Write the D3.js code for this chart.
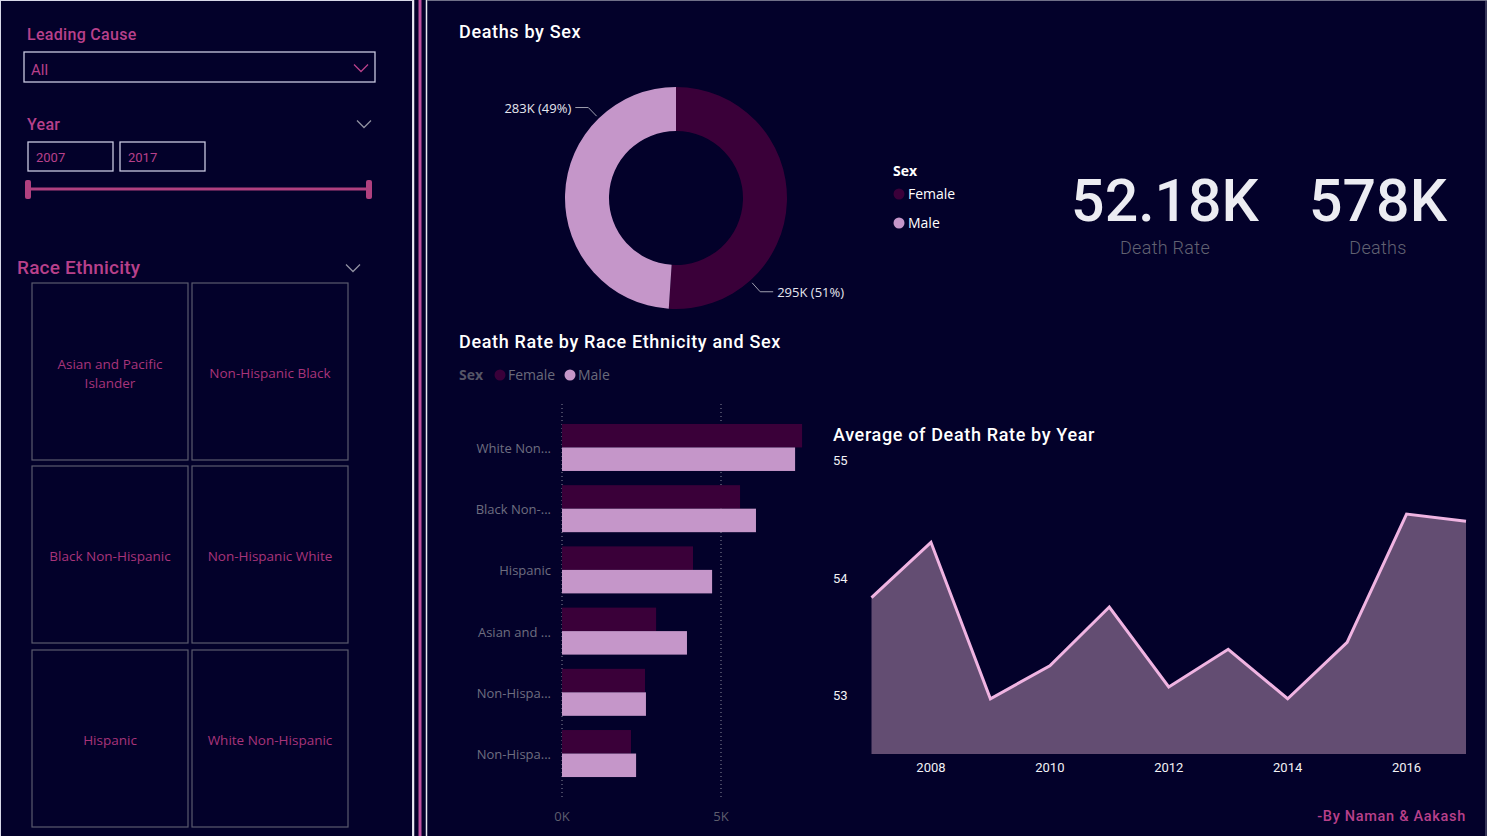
<!DOCTYPE html>
<html><head><meta charset="utf-8">
<script src="https://cdn.jsdelivr.net/npm/d3@7"></script>
<style>
html,body{margin:0;padding:0;background:#03012a;overflow:hidden}
svg{display:block}
</style></head>
<body>
<svg id="c" width="1487" height="836"></svg>
<script>
// ---------- DATA ----------
const sexes = ["Female", "Male"];
const deathsBySex = [295000, 283000];          // Female, Male
const deathsBySexLabels = ["295K (51%)", "283K (49%)"];

const raceLabels = ["White Non...", "Black Non-...", "Hispanic", "Asian and ...", "Non-Hispa...", "Non-Hispa..."];
const raceFemale = [7550, 5600, 4120, 2960, 2610, 2170];
const raceMale   = [7330, 6100, 4720, 3930, 2640, 2330];
const barTicks = [0, 5000];

const years = [2007, 2008, 2009, 2010, 2011, 2012, 2013, 2014, 2015, 2016, 2017];
const avgDeathRate = [53.83, 54.30, 52.97, 53.25, 53.75, 53.07, 53.39, 52.97, 53.45, 54.54, 54.48];
const yearTicks = [2008, 2010, 2012, 2014, 2016];
const rateTicks = [53, 54, 55];

const kpiValues = ["52.18K", "578K"];
const kpiLabels = ["Death Rate", "Deaths"];

const raceTiles = ["Asian and Pacific|Islander", "Non-Hispanic Black", "Black Non-Hispanic", "Non-Hispanic White", "Hispanic", "White Non-Hispanic"];

// ---------- STYLE ----------
const BG = "#03012a";
const FEM = "#3a0039";
const MAL = "#c596c9";
const PINK = "#b8408a";
const TILEPINK = "#a8347a";
const DIN = "Roboto, 'DejaVu Sans', sans-serif";
const SEGOE = "'Open Sans', 'Noto Sans', sans-serif";

const svg = d3.select("#c");
svg.append("rect").attr("width", 1487).attr("height", 836).attr("fill", BG);

// frames & dividers
svg.append("rect").attr("x", 0.5).attr("y", 0.5).attr("width", 412).attr("height", 840)
  .attr("fill", "none").attr("stroke", "#d8d8e8").attr("stroke-width", 1);
svg.append("line").attr("x1", 413.5).attr("x2", 413.5).attr("y1", 0).attr("y2", 836).attr("stroke", "#e8e8f0").attr("stroke-width", 1.5);
svg.append("line").attr("x1", 420).attr("x2", 420).attr("y1", 0).attr("y2", 836).attr("stroke", "#c050a0").attr("stroke-width", 3);
svg.append("line").attr("x1", 426.5).attr("x2", 426.5).attr("y1", 0).attr("y2", 836).attr("stroke", "#e8e8f0").attr("stroke-width", 1.5);
svg.append("line").attr("x1", 427).attr("x2", 1487).attr("y1", 0.5).attr("y2", 0.5).attr("stroke", "#707088").attr("stroke-width", 1);
svg.append("line").attr("x1", 1486).attr("x2", 1486).attr("y1", 0).attr("y2", 836).attr("stroke", "#707088").attr("stroke-width", 1);

// ---------- LEFT PANEL ----------
const left = svg.append("g");
left.append("text").attr("x", 27).attr("y", 40).text("Leading Cause")
  .attr("fill", PINK).attr("font-family", DIN).attr("font-size", 16).attr("font-weight", 500).attr("letter-spacing", 0.3);
left.append("rect").attr("x", 24).attr("y", 52).attr("width", 351).attr("height", 30)
  .attr("fill", "none").attr("stroke", "#c8c8e0").attr("stroke-width", 1.3);
left.append("text").attr("x", 31).attr("y", 75).text("All")
  .attr("fill", PINK).attr("font-family", DIN).attr("font-size", 15);
function chevron(x, y, col, w) {
  left.append("path").attr("d", `M${x - w},${y - w / 2} L${x},${y + w / 2} L${x + w},${y - w / 2}`)
    .attr("fill", "none").attr("stroke", col).attr("stroke-width", 1.3);
}
chevron(361, 68, PINK, 7);
left.append("text").attr("x", 27).attr("y", 130).text("Year")
  .attr("fill", PINK).attr("font-family", DIN).attr("font-size", 16).attr("font-weight", 500).attr("letter-spacing", 0.3);
chevron(364, 124, "#9090a0", 7);
[["2007", 28], ["2017", 120]].forEach(([t, x]) => {
  left.append("rect").attr("x", x).attr("y", 142).attr("width", 85).attr("height", 29)
    .attr("fill", "none").attr("stroke", "#c8c8e0").attr("stroke-width", 1.3);
  left.append("text").attr("x", x + 8).attr("y", 162).text(t)
    .attr("fill", PINK).attr("font-family", DIN).attr("font-size", 13);
});
left.append("line").attr("x1", 28).attr("x2", 369).attr("y1", 189).attr("y2", 189)
  .attr("stroke", "#b0407f").attr("stroke-width", 3);
[28, 369].forEach(x => left.append("rect").attr("x", x - 3).attr("y", 180).attr("width", 6).attr("height", 19)
  .attr("rx", 2).attr("fill", "#b0407f"));
left.append("text").attr("x", 17).attr("y", 274).text("Race Ethnicity")
  .attr("fill", PINK).attr("font-family", DIN).attr("font-size", 19).attr("font-weight", 500).attr("letter-spacing", 0.2);
chevron(353, 268, "#9090a0", 7);

const tileX = [32, 192], tileY = [283, 466, 650], tileW = 156, tileH = 177;
raceTiles.forEach((t, i) => {
  const cx = tileX[i % 2], cy = tileY[Math.floor(i / 2)];
  left.append("rect").attr("x", cx).attr("y", cy).attr("width", tileW).attr("height", tileH)
    .attr("fill", "none").attr("stroke", "#5a5a6e").attr("stroke-width", 1.2);
  const lines = t.split("|");
  lines.forEach((ln, j) => {
    left.append("text").attr("x", cx + tileW / 2).attr("y", cy + 90 + (j - (lines.length - 1) / 2) * 19 + 5)
      .attr("text-anchor", "middle").text(ln)
      .attr("fill", TILEPINK).attr("font-family", SEGOE).attr("font-size", 13.5);
  });
});

// ---------- DEATHS BY SEX (donut) ----------
svg.append("text").attr("x", 459).attr("y", 38).text("Deaths by Sex")
  .attr("fill", "#ffffff").attr("font-family", DIN).attr("font-size", 18).attr("font-weight", 500).attr("letter-spacing", 0.65);
const pie = d3.pie().sort(null).value(d => d)(deathsBySex);
const arc = d3.arc().innerRadius(67).outerRadius(111);
const donut = svg.append("g").attr("transform", "translate(676,198)");
donut.selectAll("path").data(pie).join("path").attr("d", arc)
  .attr("fill", (d, i) => i === 0 ? FEM : MAL);
// labels with leader lines
pie.forEach((d, i) => {
  const ang = i === 0 ? 2.41 : -0.77;
  const p0 = [Math.sin(ang) * 114, -Math.cos(ang) * 114];
  const p1 = [Math.sin(ang) * 126, -Math.cos(ang) * 126];
  const dir = Math.sin(ang) > 0 ? 1 : -1;
  const p2 = [p1[0] + dir * 13, p1[1]];
  donut.append("polyline").attr("points", [p0, p1, p2].map(p => p.join(",")).join(" "))
    .attr("fill", "none").attr("stroke", "#a0a0b0").attr("stroke-width", 1);
  donut.append("text").attr("x", p2[0] + dir * 4).attr("y", p2[1] + 5)
    .attr("text-anchor", dir > 0 ? "start" : "end").text(deathsBySexLabels[i])
    .attr("fill", "#e6e6ee").attr("font-family", SEGOE).attr("font-size", 13);
});

// legend
const lg = svg.append("g");
lg.append("text").attr("x", 893).attr("y", 176).text("Sex").attr("fill", "#fff")
  .attr("font-family", SEGOE).attr("font-size", 14).attr("font-weight", 700);
sexes.forEach((s, i) => {
  const y = 194 + i * 29;
  lg.append("circle").attr("cx", 899).attr("cy", y).attr("r", 5.5).attr("fill", i === 0 ? FEM : MAL);
  lg.append("text").attr("x", 908).attr("y", y + 5).text(s).attr("fill", "#fff")
    .attr("font-family", SEGOE).attr("font-size", 14);
});

// KPIs
[1165, 1378].forEach((x, i) => {
  svg.append("text").attr("x", x).attr("y", 221).attr("text-anchor", "middle").text(kpiValues[i])
    .attr("fill", "#ececf2").attr("font-family", DIN).attr("font-size", 59).attr("font-weight", 500);
  svg.append("text").attr("x", x).attr("y", 254).attr("text-anchor", "middle").text(kpiLabels[i])
    .attr("fill", "#626272").attr("font-family", DIN).attr("font-size", 18).attr("font-weight", 300).attr("letter-spacing", 0.3);
});

// ---------- DEATH RATE BY RACE (bars) ----------
svg.append("text").attr("x", 459).attr("y", 348).text("Death Rate by Race Ethnicity and Sex")
  .attr("fill", "#ffffff").attr("font-family", DIN).attr("font-size", 18).attr("font-weight", 500).attr("letter-spacing", 0.65);
const bl = svg.append("g");
bl.append("text").attr("x", 459).attr("y", 380).text("Sex").attr("fill", "#555566")
  .attr("font-family", SEGOE).attr("font-size", 14).attr("font-weight", 700);
[["Female", 500, FEM], ["Male", 570, MAL]].forEach(([t, x, c]) => {
  bl.append("circle").attr("cx", x).attr("cy", 375).attr("r", 5.5).attr("fill", c);
  bl.append("text").attr("x", x + 8).attr("y", 380).text(t).attr("fill", "#6a6a7a")
    .attr("font-family", SEGOE).attr("font-size", 14);
});

const bx = d3.scaleLinear().domain([0, 5000]).range([562, 721]);
const idx = raceLabels.map((d, i) => i);
const by = d3.scaleBand().domain(idx).range([404, 797]).paddingInner(0.232).paddingOuter(0.326);
const bsub = d3.scaleBand().domain(sexes).range([0, by.bandwidth()]);

const grid = svg.append("g");
barTicks.forEach(t => {
  grid.append("line").attr("x1", bx(t)).attr("x2", bx(t)).attr("y1", 404).attr("y2", 800)
    .attr("stroke", "#8a8a9a").attr("stroke-width", 1).attr("stroke-dasharray", "1,3");
  grid.append("text").attr("x", bx(t)).attr("y", 821).attr("text-anchor", "middle")
    .text(d3.format("d")(t / 1000) + "K").attr("fill", "#5e5e6e")
    .attr("font-family", SEGOE).attr("font-size", 13);
});
const bars = svg.append("g");
idx.forEach(i => {
  [[raceFemale[i], "Female", FEM], [raceMale[i], "Male", MAL]].forEach(([v, s, c]) => {
    bars.append("rect").attr("x", bx(0)).attr("y", by(i) + bsub(s))
      .attr("width", bx(v) - bx(0)).attr("height", bsub.bandwidth()).attr("fill", c);
  });
  bars.append("text").attr("x", 551).attr("y", by(i) + by.bandwidth() / 2 + 5.5)
    .attr("text-anchor", "end").text(raceLabels[i]).attr("fill", "#6e6e80")
    .attr("font-family", SEGOE).attr("font-size", 13);
});

// ---------- AVERAGE DEATH RATE BY YEAR (area) ----------
svg.append("text").attr("x", 833).attr("y", 441).text("Average of Death Rate by Year")
  .attr("fill", "#ffffff").attr("font-family", DIN).attr("font-size", 18).attr("font-weight", 500).attr("letter-spacing", 0.65);
const lx = d3.scaleLinear().domain([2007, 2017]).range([871.5, 1466]);
const ly = d3.scaleLinear().domain([52.5, 55]).range([754, 460]);
const series = years.map((y, i) => ({ y, v: avgDeathRate[i] }));
svg.append("path").datum(series)
  .attr("d", d3.area().x(d => lx(d.y)).y0(ly(52.5)).y1(d => ly(d.v)))
  .attr("fill", "#634d72");
svg.append("path").datum(series)
  .attr("d", d3.line().x(d => lx(d.y)).y(d => ly(d.v)))
  .attr("fill", "none").attr("stroke", "#f0b4e2").attr("stroke-width", 3).attr("stroke-linejoin", "miter");
rateTicks.forEach(t => {
  svg.append("text").attr("x", 833).attr("y", ly(t) + 5).text(t).attr("fill", "#f2f2f6")
    .attr("font-family", DIN).attr("font-size", 13);
});
yearTicks.forEach(t => {
  svg.append("text").attr("x", lx(t)).attr("y", 772).attr("text-anchor", "middle").text(t)
    .attr("fill", "#f2f2f6").attr("font-family", DIN).attr("font-size", 13);
});

// footer
svg.append("text").attr("x", 1466).attr("y", 821).attr("text-anchor", "end").text("-By Naman & Aakash")
  .attr("fill", PINK).attr("font-family", DIN).attr("font-size", 14.5).attr("font-weight", 500).attr("letter-spacing", 0.7);
</script>
</body></html>
